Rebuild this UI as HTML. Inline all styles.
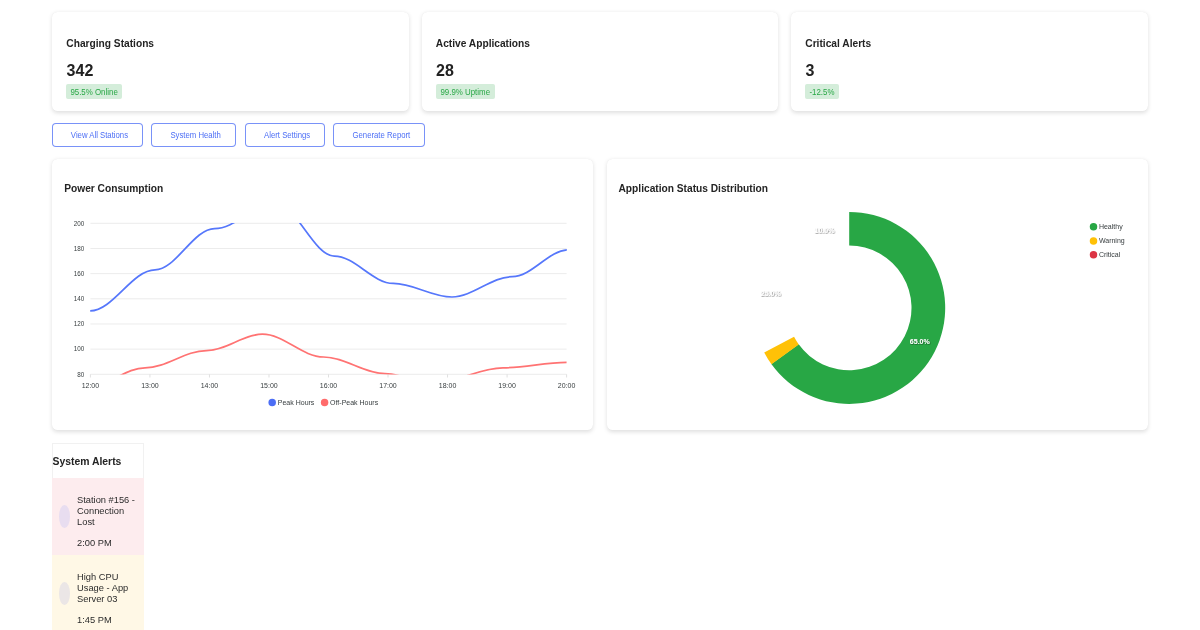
<!DOCTYPE html>
<html><head><meta charset="utf-8"><title>Dashboard</title>
<style>
html,body{margin:0;padding:0;background:#fff;}
html{width:1200px;height:630px;overflow:hidden;}
body{width:1200px;height:630px;overflow:hidden;position:relative;font-family:"Liberation Sans",sans-serif;color:#212121;}
.card{position:absolute;background:#fff;border-radius:5.5px;box-shadow:0 1.6px 4.2px rgba(0,0,0,.13),0 0 .8px rgba(0,0,0,.08);}
.t{position:absolute;white-space:nowrap;font-weight:bold;font-size:10.2px;line-height:12px;color:#242424;}
.num{position:absolute;white-space:nowrap;font-weight:bold;font-size:16px;line-height:18px;color:#222;}
.chip{position:absolute;height:14.2px;border-radius:2px;background:#d4edda;color:#28a745;font-size:7.9px;line-height:14.2px;text-align:center;white-space:nowrap;}
.chip span{display:inline-block;position:relative;top:1.5px;transform:scale(1,1.1);transform-origin:50% 60%;}
.btn span{display:inline-block;transform:scale(1,1.13);transform-origin:50% 68%;}
.btn{position:absolute;top:123px;height:23.7px;box-sizing:border-box;padding-left:4.6px;border:1px solid rgba(76,110,245,.75);border-radius:4px;color:#4c6ef5;font-size:7.75px;line-height:23.3px;text-align:center;white-space:nowrap;background:#fff;}
svg{position:absolute;left:0;top:0;}
.yl{font-size:6.3px;fill:#373d3f;font-family:"Liberation Sans",sans-serif;}
.xl{font-size:7px;fill:#373d3f;font-family:"Liberation Sans",sans-serif;}
.lg{font-size:7px;fill:#373d3f;font-family:"Liberation Sans",sans-serif;}
.dl{font-size:7px;font-weight:bold;fill:#fff;font-family:"Liberation Sans",sans-serif;text-anchor:middle;}
.alerts{position:absolute;left:51.7px;top:443px;width:92.7px;height:187px;overflow:hidden;background:#fff;}
.ahead{position:absolute;left:0;top:0;width:92.7px;height:36px;box-sizing:border-box;border:1px solid #f1f1f1;border-bottom:none;}
.ai{position:absolute;left:0;width:92.7px;height:77px;}
.ai .el{position:absolute;left:7.5px;width:11px;height:23.2px;border-radius:50%;}
.ai .tx{position:absolute;left:25.4px;font-size:9.3px;line-height:10.95px;color:#2b2b2b;white-space:nowrap;}
</style></head><body><div id="root" style="position:absolute;left:0;top:0;width:1200px;height:630px;will-change:transform;">

<div class="card" style="left:51.5px;top:11.5px;width:357.5px;height:99.5px"></div>
<div class="card" style="left:421.5px;top:11.5px;width:356.7px;height:99.5px"></div>
<div class="card" style="left:790.5px;top:11.5px;width:357.5px;height:99.5px"></div>

<div class="t" style="left:66.3px;top:37.5px">Charging Stations</div>
<div class="num" style="left:66.6px;top:61.5px">342</div>
<div class="chip" style="left:66.2px;top:84.4px;width:55.8px"><span>95.5% Online</span></div>

<div class="t" style="left:435.8px;top:37.5px">Active Applications</div>
<div class="num" style="left:436.1px;top:61.5px">28</div>
<div class="chip" style="left:435.5px;top:84.4px;width:59.5px"><span>99.9% Uptime</span></div>

<div class="t" style="left:805.3px;top:37.5px">Critical Alerts</div>
<div class="num" style="left:805.6px;top:61.5px">3</div>
<div class="chip" style="left:805.2px;top:84.4px;width:33.5px"><span>-12.5%</span></div>

<div class="btn" style="left:51.5px;width:91.3px"><span>View All Stations</span></div>
<div class="btn" style="left:151px;width:84.7px"><span>System Health</span></div>
<div class="btn" style="left:244.8px;width:80px"><span>Alert Settings</span></div>
<div class="btn" style="left:333.2px;width:91.8px"><span>Generate Report</span></div>

<div class="card" style="left:51.5px;top:158.7px;width:541.8px;height:271.4px"></div>
<div class="card" style="left:606.6px;top:158.7px;width:541.6px;height:271.4px"></div>
<div class="t" style="left:64.2px;top:182.6px">Power Consumption</div>
<div class="t" style="left:618.5px;top:182.6px">Application Status Distribution</div>

<svg width="1200" height="630" viewBox="0 0 1200 630">
<defs>
<clipPath id="cp"><rect x="90.0" y="223.0" width="476.80000000000007" height="151.6"/></clipPath>
<filter id="ds" x="-20%" y="-20%" width="140%" height="160%"><feDropShadow dx="0.55" dy="0.55" stdDeviation="0.42" flood-color="#000" flood-opacity="0.6"/></filter>
</defs>
<line x1="90.4" y1="223.30" x2="566.6" y2="223.30" stroke="#ececec" stroke-width="1"/>
<text x="84.3" y="225.50" text-anchor="end" class="yl">200</text>
<line x1="90.4" y1="248.47" x2="566.6" y2="248.47" stroke="#ececec" stroke-width="1"/>
<text x="84.3" y="250.67" text-anchor="end" class="yl">180</text>
<line x1="90.4" y1="273.63" x2="566.6" y2="273.63" stroke="#ececec" stroke-width="1"/>
<text x="84.3" y="275.83" text-anchor="end" class="yl">160</text>
<line x1="90.4" y1="298.80" x2="566.6" y2="298.80" stroke="#ececec" stroke-width="1"/>
<text x="84.3" y="301.00" text-anchor="end" class="yl">140</text>
<line x1="90.4" y1="323.97" x2="566.6" y2="323.97" stroke="#ececec" stroke-width="1"/>
<text x="84.3" y="326.17" text-anchor="end" class="yl">120</text>
<line x1="90.4" y1="349.13" x2="566.6" y2="349.13" stroke="#ececec" stroke-width="1"/>
<text x="84.3" y="351.33" text-anchor="end" class="yl">100</text>
<line x1="90.4" y1="374.30" x2="566.6" y2="374.30" stroke="#ececec" stroke-width="1"/>
<text x="84.3" y="376.50" text-anchor="end" class="yl">80</text>
<line x1="90.40" y1="374.3" x2="90.40" y2="377.5" stroke="#e0e0e0" stroke-width="1"/>
<text x="90.40" y="387.8" text-anchor="middle" class="xl">12:00</text>
<line x1="149.93" y1="374.3" x2="149.93" y2="377.5" stroke="#e0e0e0" stroke-width="1"/>
<text x="149.93" y="387.8" text-anchor="middle" class="xl">13:00</text>
<line x1="209.45" y1="374.3" x2="209.45" y2="377.5" stroke="#e0e0e0" stroke-width="1"/>
<text x="209.45" y="387.8" text-anchor="middle" class="xl">14:00</text>
<line x1="268.98" y1="374.3" x2="268.98" y2="377.5" stroke="#e0e0e0" stroke-width="1"/>
<text x="268.98" y="387.8" text-anchor="middle" class="xl">15:00</text>
<line x1="328.50" y1="374.3" x2="328.50" y2="377.5" stroke="#e0e0e0" stroke-width="1"/>
<text x="328.50" y="387.8" text-anchor="middle" class="xl">16:00</text>
<line x1="388.02" y1="374.3" x2="388.02" y2="377.5" stroke="#e0e0e0" stroke-width="1"/>
<text x="388.02" y="387.8" text-anchor="middle" class="xl">17:00</text>
<line x1="447.55" y1="374.3" x2="447.55" y2="377.5" stroke="#e0e0e0" stroke-width="1"/>
<text x="447.55" y="387.8" text-anchor="middle" class="xl">18:00</text>
<line x1="507.08" y1="374.3" x2="507.08" y2="377.5" stroke="#e0e0e0" stroke-width="1"/>
<text x="507.08" y="387.8" text-anchor="middle" class="xl">19:00</text>
<line x1="566.60" y1="374.3" x2="566.60" y2="377.5" stroke="#e0e0e0" stroke-width="1"/>
<text x="566.60" y="387.8" text-anchor="middle" class="xl">20:00</text>

<g clip-path="url(#cp)" fill="none" stroke-linecap="butt" stroke-linejoin="round">
<path d="M90.20 310.90C112.88 310.90 132.32 269.80 155.00 269.80C175.82 269.80 193.68 228.60 214.50 228.60C235.85 228.60 254.15 203.40 275.50 203.40C296.08 203.40 313.72 256.10 334.30 256.10C354.95 256.10 372.65 283.40 393.30 283.40C413.85 283.40 431.45 297.00 452.00 297.00C473.07 297.00 491.13 276.70 512.20 276.70C531.90 276.70 548.80 249.75 568.50 249.75" stroke="#5677fb" stroke-width="1.7"/>
<path d="M90.20 386.00C109.38 386.00 125.82 367.80 145.00 367.80C166.53 367.80 184.97 350.60 206.50 350.60C226.10 350.60 242.90 334.20 262.50 334.20C283.85 334.20 302.15 357.00 323.50 357.00C345.02 357.00 363.48 373.60 385.00 373.60C401.45 373.60 415.55 383.30 432.00 383.30C456.85 383.30 478.15 367.80 503.00 367.80C525.30 367.80 544.40 362.30 566.70 362.30" stroke="#ff7373" stroke-width="1.7"/>
</g>
<circle cx="272.2" cy="402.4" r="3.75" fill="#4c6ef5"/>
<text x="277.8" y="404.8" class="lg">Peak Hours</text>
<circle cx="324.6" cy="402.4" r="3.75" fill="#ff6b6b"/>
<text x="330.1" y="404.8" class="lg">Off-Peak Hours</text>

<path d="M849.20 211.90 A96.00 96.00 0 1 1 771.34 364.06 L798.67 344.34 A62.30 62.30 0 1 0 849.20 245.60 Z" fill="#28a745"/>
<path d="M771.53 364.33 A96.00 96.00 0 0 1 764.20 352.52 L794.04 336.86 A62.30 62.30 0 0 0 798.80 344.52 Z" fill="#ffc107"/>
<g filter="url(#ds)">
<text x="919.8" y="344.1" class="dl">65.0%</text>
<text x="770.7" y="295.8" class="dl">25.0%</text>
<text x="824.5" y="232.9" class="dl">10.0%</text>
</g>
<circle cx="1093.5" cy="226.8" r="3.75" fill="#28a745"/>
<text x="1098.9" y="229.0" class="lg">Healthy</text>
<circle cx="1093.5" cy="240.9" r="3.75" fill="#ffc107"/>
<text x="1098.9" y="243.1" class="lg">Warning</text>
<circle cx="1093.5" cy="254.8" r="3.75" fill="#dc3545"/>
<text x="1098.9" y="257.0" class="lg">Critical</text>
</svg>

<div class="alerts">
<div class="ahead"></div>
<div class="t" style="left:0.8px;top:12.6px;font-size:10.4px">System Alerts</div>
<div class="ai" style="top:35px;background:#fdecee">
  <div class="el" style="top:26.5px;background:#e8ddf0"></div>
  <div class="tx" style="top:16.7px">Station #156 -<br>Connection<br>Lost</div>
  <div class="tx" style="top:59.7px">2:00 PM</div>
</div>
<div class="ai" style="top:112px;background:#fff8e6">
  <div class="el" style="top:27px;background:#ebe6e6"></div>
  <div class="tx" style="top:17.3px">High CPU<br>Usage - App<br>Server 03</div>
  <div class="tx" style="top:59.85px">1:45 PM</div>
</div>
</div>
</div></body></html>
